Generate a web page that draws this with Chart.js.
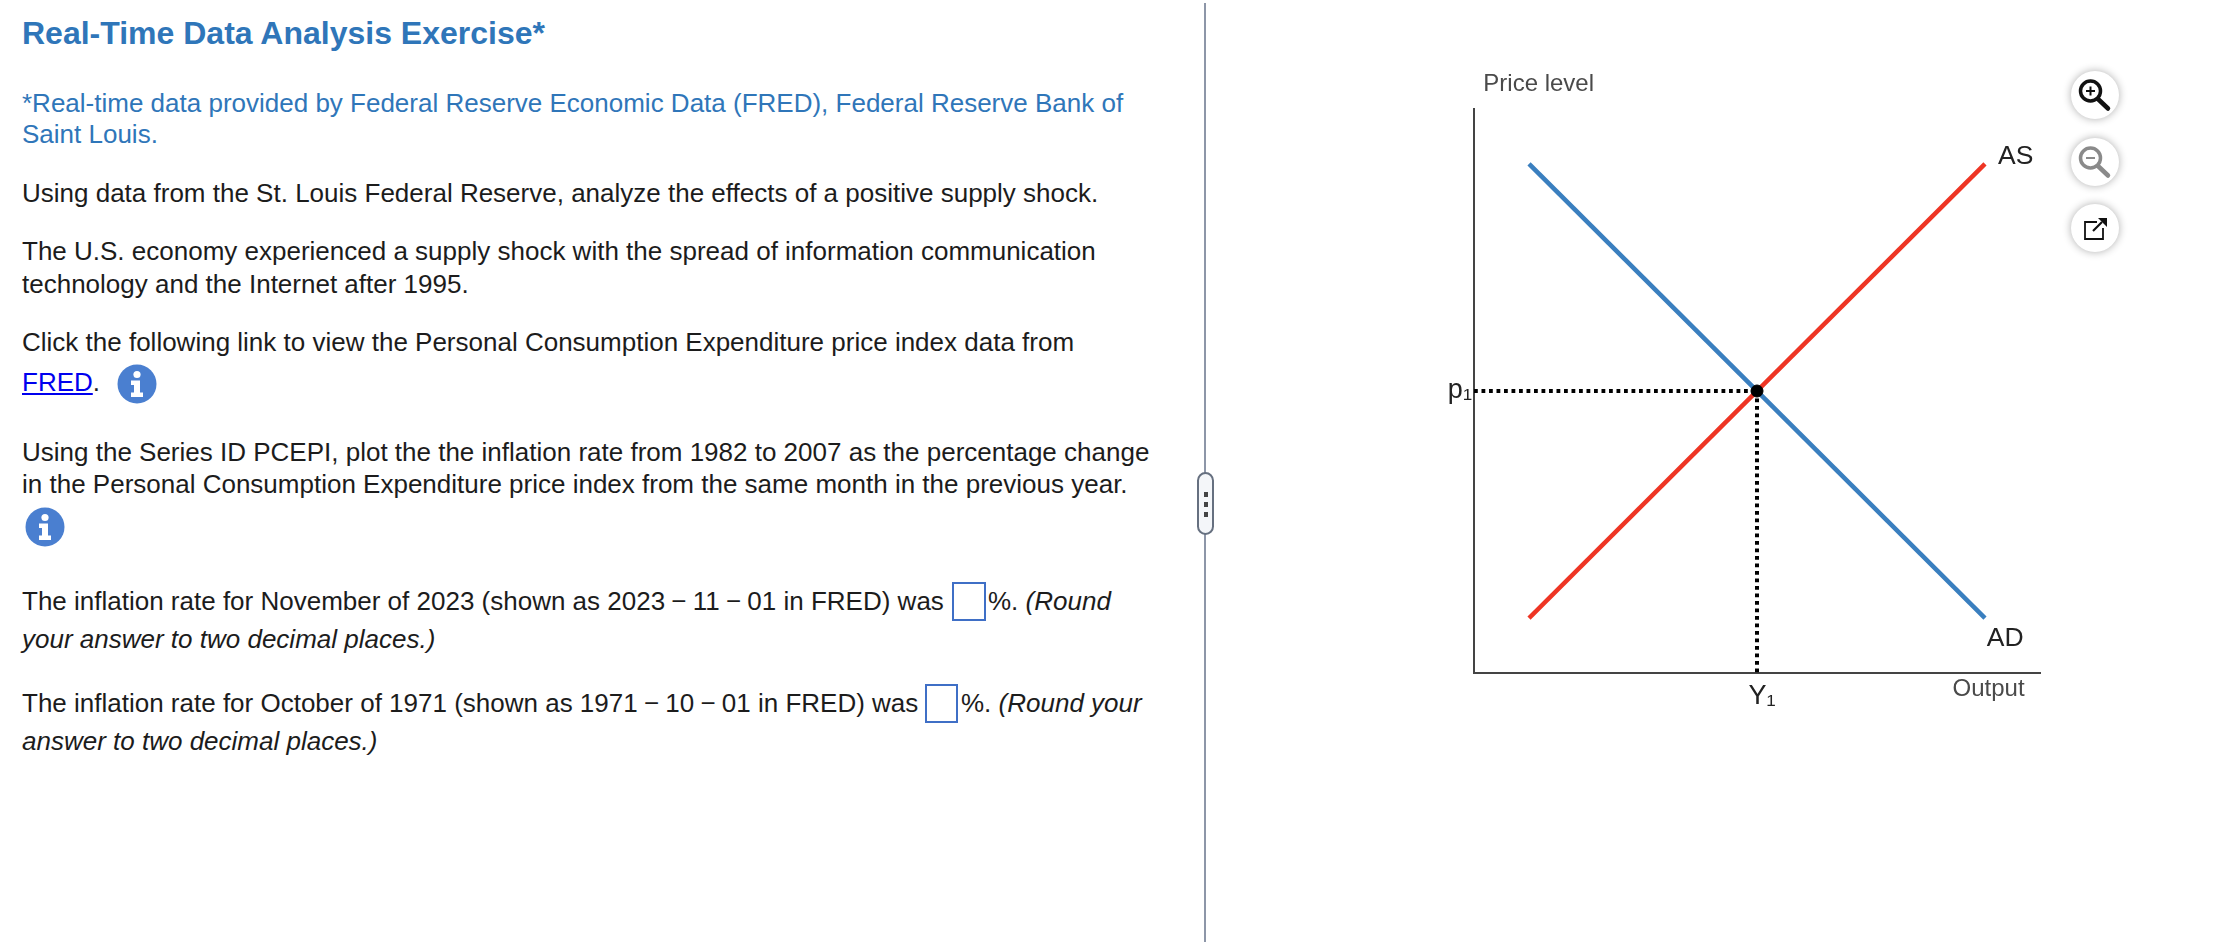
<!DOCTYPE html>
<html><head><meta charset="utf-8">
<script src="https://cdn.jsdelivr.net/npm/chart.js@4"></script>
<style>
html,body{margin:0;padding:0;background:#fff;width:2218px;height:942px;overflow:hidden;font-family:"Liberation Sans",Arial,sans-serif;}
.t{position:absolute;white-space:nowrap;line-height:0;color:#1c1c1c;}
.m{padding:0 1px;}
.box{position:absolute;border:2px solid #3f6fc6;box-sizing:border-box;background:#fff;}
.info{position:absolute;}
.btn{position:absolute;left:2071px;width:48px;height:48px;border-radius:50%;background:#fff;box-shadow:0 0 9px rgba(0,0,0,.32);}
.btn svg{position:absolute;left:0;top:0;}
#div{position:absolute;left:1204px;top:3px;width:2px;height:939px;background:#8d96a8;}
#grip{position:absolute;left:1197px;top:472px;width:17px;height:63px;box-sizing:border-box;border:2.5px solid #667080;border-radius:9px;background:#f4f6f9;}
#grip i{position:absolute;left:4.5px;width:4.5px;height:4.5px;background:#444;}
#c{position:absolute;left:1400px;top:60px;}
</style></head><body>
<div id="div"></div>
<div id="grip"><i style="top:18px"></i><i style="top:28px"></i><i style="top:38px"></i></div>
<div id="text"></div>
<canvas id="c" width="700" height="660"></canvas>
<div class="btn" style="top:71px"><svg width="48" height="48" viewBox="0 0 48 48"><circle cx="19.5" cy="20" r="10" fill="none" stroke="#111" stroke-width="3.5"/><path d="M27 28 L37 37.5" stroke="#111" stroke-width="4.5" stroke-linecap="round"/><path d="M15 20h9M19.5 15.5v9" stroke="#111" stroke-width="2"/></svg></div>
<div class="btn" style="top:138px"><svg width="48" height="48" viewBox="0 0 48 48"><circle cx="19.5" cy="20" r="10" fill="none" stroke="#8a8a8a" stroke-width="3.5"/><path d="M27 28 L37 37.5" stroke="#8a8a8a" stroke-width="4.5" stroke-linecap="round"/><path d="M15 20h9" stroke="#8a8a8a" stroke-width="2"/></svg></div>
<div class="btn" style="top:204px"><svg width="48" height="48" viewBox="0 0 48 48"><path d="M26 18H14v17h18V24" fill="none" stroke="#111" stroke-width="1.8"/><path d="M22 27 L31 18" stroke="#111" stroke-width="2.2"/><path d="M27 14h9v9z" fill="#111"/></svg></div>
<script>
// ---- chart data ----
const asX = [10, 90];
const asY = [10, 90];
const adX = [10, 90];
const adY = [90, 10];
const eqX = [50];
const eqY = [50];
const yTick = ['p\u2081'];
const xTick = ['Y\u2081'];
const curveLabels = ['AS', 'AD'];
const axisLabels = ['Price level', 'Output'];
const labelX = [92.6, 90.6, 1.65, 84.55];
const labelY = [90.3, 4.8, 103.2, -4.0];

// ---- page text ----
const BLUE = '#2f76b9';
const M = '<span class="m">\u2009\u2212\u2009</span>';
const pageLines = [
 [22, 44, 'Real-Time Data Analysis Exercise*', 32, 'bold', BLUE],
 [22, 112, '*Real-time data provided by Federal Reserve Economic Data (FRED), Federal Reserve Bank of', 26, '', BLUE],
 [22, 143, 'Saint Louis.', 26, '', BLUE],
 [22, 202, 'Using data from the St. Louis Federal Reserve, analyze the effects of a positive supply shock.'],
 [22, 260, 'The U.S. economy experienced a supply shock with the spread of information communication'],
 [22, 293, 'technology and the Internet after 1995.'],
 [22, 351, 'Click the following link to view the Personal Consumption Expenditure price index data from'],
 [22, 391, '<a style="color:#0000ee;text-decoration:underline">FRED</a>.'],
 [22, 461, 'Using the Series ID PCEPI, plot the the inflation rate from 1982 to 2007 as the percentage change'],
 [22, 493, 'in the Personal Consumption Expenditure price index from the same month in the previous year.'],
 [22, 610, `The inflation rate for November of 2023 (shown as 2023${M}11${M}01 in FRED) was`],
 [988, 610, '%. <i>(Round</i>'],
 [22, 648, '<i>your answer to two decimal places.)</i>'],
 [22, 712, `The inflation rate for October of 1971 (shown as 1971${M}10${M}01 in FRED) was`],
 [961, 712, '%. <i>(Round your</i>'],
 [22, 750, '<i>answer to two decimal places.)</i>'],
];
const host = document.getElementById('text');
for (const [x, b, s, size = 26, w = '', col = '#1c1c1c'] of pageLines) {
  const d = document.createElement('div');
  d.className = 't';
  d.style.cssText = `left:${x}px;top:${b - 0.3465 * size}px;font-size:${size}px;color:${col};font-weight:${w || 'normal'}`;
  d.innerHTML = s;
  host.appendChild(d);
}
for (const [l, t, wd, h] of [[952, 582, 34, 39], [925, 684, 33, 39]]) {
  const d = document.createElement('div');
  d.className = 'box';
  d.style.cssText = `left:${l}px;top:${t}px;width:${wd}px;height:${h}px`;
  host.appendChild(d);
}
for (const [cx, cy] of [[137, 384], [45, 527]]) {
  const d = document.createElement('div');
  d.className = 'info';
  d.style.cssText = `left:${cx - 20}px;top:${cy - 20}px`;
  d.innerHTML = '<svg width="40" height="40" viewBox="0 0 40 40"><circle cx="20" cy="20" r="19.5" fill="#4a7fd0"/><circle cx="20" cy="10.5" r="3.6" fill="#fff"/><path d="M14 16.5h9v12h3v4.5H14v-4.5h3v-7.5h-3z" fill="#fff"/></svg>';
  host.appendChild(d);
}

// ---- chart ----
const labelPlugin = {
  id: 'curveText',
  afterDraw(chart) {
    const c = chart.ctx, X = chart.scales.x, Y = chart.scales.y;
    c.save();
    c.textBaseline = 'alphabetic';
    c.textAlign = 'left';
    c.font = '26.5px "Liberation Sans", Arial, sans-serif';
    c.fillStyle = '#222';
    c.fillText(curveLabels[0], X.getPixelForValue(labelX[0]), Y.getPixelForValue(labelY[0]));
    c.fillText(curveLabels[1], X.getPixelForValue(labelX[1]), Y.getPixelForValue(labelY[1]));
    c.font = '24px "Liberation Sans", Arial, sans-serif';
    c.fillStyle = '#4a4a4a';
    c.fillText(axisLabels[0], X.getPixelForValue(labelX[2]), Y.getPixelForValue(labelY[2]));
    c.fillText(axisLabels[1], X.getPixelForValue(labelX[3]), Y.getPixelForValue(labelY[3]));
    c.restore();
  }
};

const dash = [3.8, 3.7];
new Chart(document.getElementById('c'), {
  type: 'scatter',
  data: { datasets: [
    { label: 'eq', data: eqX.map((x, i) => ({x, y: eqY[i]})), pointRadius: 6, backgroundColor: '#000', borderColor: '#000' },
    { label: curveLabels[1], data: adX.map((x, i) => ({x, y: adY[i]})), showLine: true, borderColor: '#3a7fbf', borderWidth: 4.5, borderCapStyle: 'square', pointRadius: 0 },
    { label: curveLabels[0], data: asX.map((x, i) => ({x, y: asY[i]})), showLine: true, borderColor: '#ee3524', borderWidth: 4.5, borderCapStyle: 'square', pointRadius: 0 },
    { label: 'price', data: [{x: 0, y: eqY[0]}, {x: eqX[0], y: eqY[0]}], showLine: true, borderColor: '#000', borderWidth: 4, borderDash: dash, pointRadius: 0 },
    { label: 'output', data: [{x: eqX[0], y: eqY[0]}, {x: eqX[0], y: 0}], showLine: true, borderColor: '#000', borderWidth: 4, borderDash: dash, pointRadius: 0 },
  ]},
  options: {
    responsive: false, animation: false, clip: false,
    layout: { padding: { top: 49, right: 60, left: 0, bottom: 0 } },
    plugins: { legend: { display: false }, tooltip: { enabled: false } },
    scales: {
      x: { type: 'linear', min: 0, max: 100, grid: { display: false, drawTicks: false },
           border: { color: '#444', width: 2 },
           afterBuildTicks: s => { s.ticks = eqX.map(v => ({value: v})); },
           afterFit: s => { s.height = 47; },
           ticks: { callback: () => xTick[0], font: { size: 27, family: '"Liberation Sans"' }, color: '#222', padding: 7, labelOffset: 5, maxRotation: 0, autoSkip: false } },
      y: { type: 'linear', min: 0, max: 100, grid: { display: false, drawTicks: false },
           border: { color: '#444', width: 2 },
           afterBuildTicks: s => { s.ticks = eqY.map(v => ({value: v})); },
           afterFit: s => { s.width = 74; },
           ticks: { callback: () => yTick[0], font: { size: 27, family: '"Liberation Sans"' }, color: '#222', padding: 2, autoSkip: false } },
    }
  },
  plugins: [labelPlugin]
});
</script>
</body></html>
